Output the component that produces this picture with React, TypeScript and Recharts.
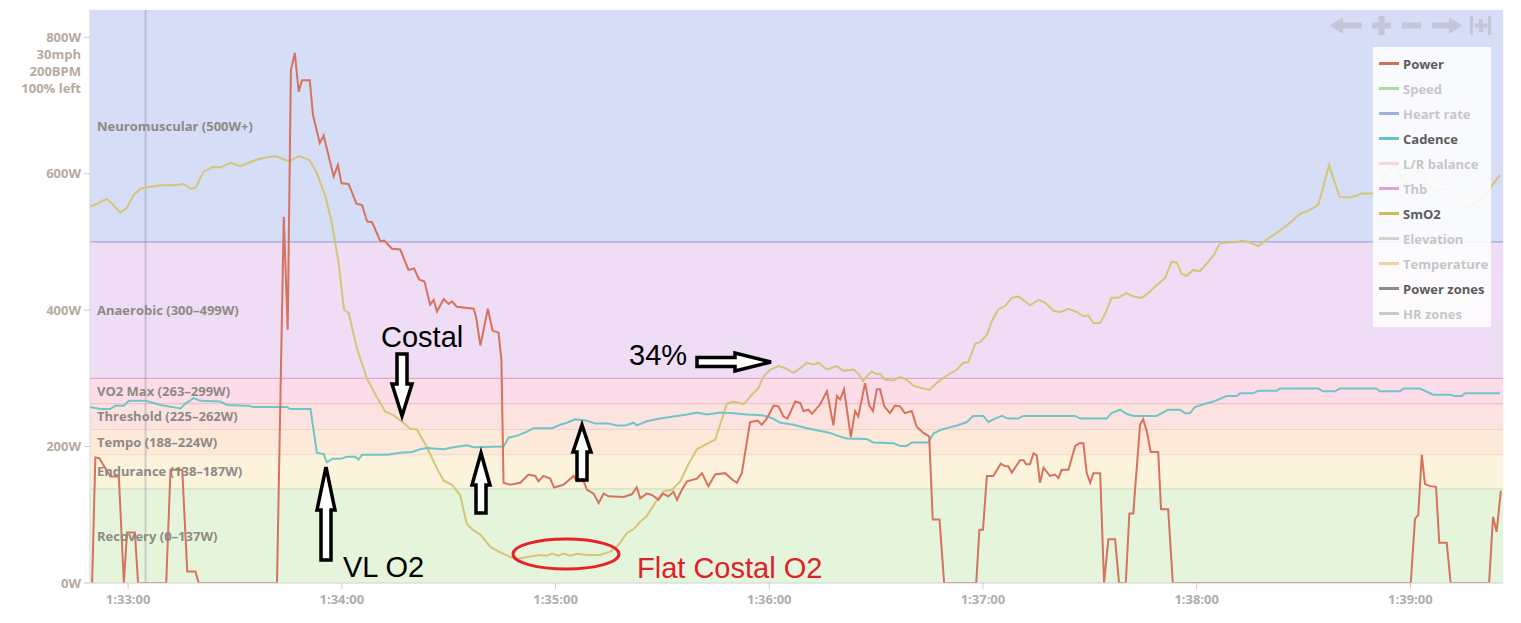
/**
 * Ride file segment: power, cadence and SmO2 over a ~6.5 minute window,
 * drawn on top of the coloured power-zone bands, with hand-drawn notes
 * (arrows, "Costal", "VL O2", "34%", the red "Flat Costal O2" ring).
 *
 * Cadence and SmO2 are kept in the same plotted units as the watt axis,
 * so every series shares the single visible y scale.
 */

import {
	CartesianGrid,
	Line,
	LineChart,
	ReferenceArea,
	ReferenceLine,
	XAxis,
	YAxis,
} from "recharts";

// Time in seconds after 1:33:00.
const xTicks = [0, 60, 120, 180, 240, 300, 360];
const xTickLabels = ["1:33:00", "1:34:00", "1:35:00", "1:36:00", "1:37:00", "1:38:00", "1:39:00"];
const yTicks = [0, 200, 400, 600, 800];
const topTickExtra = ["30mph", "200BPM", "100% left"];

const zoneNames = [
	"Recovery (0–137W)",
	"Endurance (138–187W)",
	"Tempo (188–224W)",
	"Threshold (225–262W)",
	"VO2 Max (263–299W)",
	"Anaerobic (300–499W)",
	"Neuromuscular (500W+)",
];
const zoneFrom = [0, 138, 188, 225, 263, 300, 500];
const zoneTo = [138, 188, 225, 263, 300, 500, 840];
const zoneFill = ["#e5f5dc", "#fbf3dc", "#fde9da", "#fde3df", "#fcdce8", "#efdcf5", "#d6ddf7"];
const zoneEdge = ["#d9dcc0", "#eedcc0", "#efd3c6", "#ecc3c6", "#dcaacb", "#aaa2d6"];

const powerT = [
	-10.1, -9.2, -8.1, -5.0, -2.6, -1.2, -0.3, 1.9, 2.8, 10.7, 11.9, 15.2, 16.6, 18.9, 19.8, 41.8, 43.7, 44.8, 45.7,
	46.8, 47.9, 48.8, 51.0, 51.9, 53.8, 54.9, 57.7, 58.9, 59.9, 61.9, 64.1, 65.7, 67.1, 68.5, 70.8, 71.9, 74.1, 76.4,
	78.7, 80.3, 81.7, 83.2, 84.8, 85.8, 86.7, 88.6, 90.0, 90.9, 92.3, 97.0, 97.7, 98.9, 101.0, 102.3, 104.0, 104.8,
	105.4, 107.3, 110.1, 112.4, 114.3, 115.2, 116.6, 118.5, 119.6, 122.2, 125.1, 126.0, 127.9, 128.8, 130.7, 132.1,
	133.5, 134.9, 139.1, 141.4, 142.8, 143.8, 145.6, 147.1, 148.9, 150.1, 151.7, 153.1, 154.1, 155.5, 156.9, 159.7,
	161.1, 162.9, 164.8, 167.6, 169.5, 170.9, 172.3, 174.6, 176.7, 177.9, 179.3, 181.2, 182.6, 184.0, 185.1, 187.3,
	188.7, 189.6, 191.0, 192.0, 194.3, 196.2, 198.0, 199.0, 199.9, 201.0, 202.9, 204.1, 205.0, 206.9, 208.1, 209.1,
	210.2, 211.1, 212.3, 213.9, 215.3, 216.7, 218.1, 220.0, 221.4, 223.3, 224.9, 225.9, 227.8, 229.1, 238.1, 239.0,
	240.0, 241.1, 242.9, 245.0, 246.2, 247.1, 248.1, 250.4, 251.4, 252.1, 253.2, 254.2, 255.1, 256.0, 257.0, 258.8,
	260.2, 261.2, 262.1, 264.0, 265.9, 267.1, 268.2, 269.1, 270.1, 271.0, 272.9, 274.0, 275.2, 277.1, 278.2, 280.1,
	281.1, 282.2, 284.1, 285.0, 286.0, 287.1, 289.2, 290.0, 292.0, 293.3, 360.1, 361.3, 362.2, 363.2, 364.1, 365.5,
	367.2, 368.1, 370.2, 371.3, 382.1, 383.2, 384.2, 385.4,
];
const powerW = [
	0, 184, 183, 156, 156, 0, 74, 74, 0, 0, 166, 166, 17, 17, 0, 0, 537, 371, 752, 777, 720, 737, 737, 686, 645, 656,
	596, 613, 586, 585, 556, 554, 530, 529, 501, 502, 490, 489, 459, 461, 445, 442, 408, 415, 398, 416, 409, 413, 405,
	402, 390, 348, 402, 370, 367, 327, 147, 144, 147, 159, 157, 149, 157, 153, 140, 144, 157, 149, 149, 137, 131, 117,
	131, 127, 126, 130, 140, 124, 131, 129, 122, 131, 127, 134, 122, 137, 149, 153, 161, 142, 159, 161, 152, 147, 161,
	236, 238, 232, 241, 260, 259, 244, 241, 266, 264, 252, 254, 248, 262, 281, 231, 274, 269, 284, 214, 252, 244, 293,
	260, 252, 284, 284, 259, 249, 260, 259, 249, 252, 229, 220, 215, 93, 93, 0, 0, 78, 78, 157, 157, 175, 171, 171,
	162, 180, 180, 174, 174, 190, 187, 147, 169, 157, 159, 154, 166, 166, 201, 205, 205, 162, 147, 161, 161, 0, 64, 64,
	0, 0, 102, 102, 232, 240, 222, 192, 192, 108, 108, 0, 0, 94, 100, 188, 145, 142, 141, 59, 59, 0, 0, 97, 75, 135,
];

const cadenceT = [
	-10.7, -7.8, -5.0, -3.6, -1.2, 0.2, 4.9, 9.1, 14.7, 16.1, 18.4, 20.3, 25.9, 27.8, 33.4, 35.2, 44.6, 45.5, 51.2,
	53.0, 54.9, 55.8, 57.3, 59.6, 61.5, 63.8, 64.7, 65.7, 72.7, 76.4, 79.7, 82.0, 83.9, 88.6, 91.4, 95.1, 97.0, 105.4,
	106.8, 109.2, 112.0, 113.8, 119.0, 121.3, 123.2, 125.5, 128.8, 131.1, 134.9, 137.2, 139.6, 141.9, 142.8, 145.6,
	149.4, 153.1, 156.9, 159.7, 162.5, 166.2, 170.0, 173.7, 177.9, 180.7, 183.1, 186.8, 190.6, 193.4, 197.1, 199.0,
	201.8, 207.4, 209.2, 214.9, 216.7, 218.6, 220.0, 224.7, 226.1, 228.0, 229.8, 232.7, 235.5, 237.3, 240.1, 241.5,
	243.4, 245.3, 247.1, 249.9, 251.3, 265.9, 267.3, 274.7, 276.1, 278.5, 280.3, 282.2, 288.7, 290.6, 292.0, 295.3,
	296.7, 298.1, 299.5, 301.9, 304.7, 308.4, 311.2, 312.2, 315.9, 317.3, 322.5, 323.4, 334.1, 335.5, 338.8, 340.2,
	350.5, 351.4, 357.1, 358.0, 362.7, 366.4, 371.1, 372.5, 374.4, 375.3, 385.1,
];
const cadenceV = [
	258, 255, 255, 260, 260, 267, 267, 261, 256, 263, 271, 267, 266, 261, 260, 258, 258, 255, 255, 191, 189, 177, 182,
	182, 185, 185, 181, 188, 188, 191, 192, 196, 198, 196, 199, 202, 199, 200, 213, 216, 222, 227, 227, 232, 235, 240,
	238, 234, 234, 231, 231, 235, 231, 237, 241, 244, 247, 250, 247, 250, 249, 247, 246, 242, 235, 232, 227, 224, 220,
	216, 212, 211, 206, 205, 201, 201, 206, 206, 219, 224, 227, 231, 236, 245, 245, 236, 241, 245, 241, 241, 245, 245,
	241, 241, 249, 254, 248, 245, 245, 250, 254, 254, 249, 249, 258, 262, 266, 274, 274, 278, 278, 282, 282, 285, 285,
	281, 281, 285, 285, 281, 281, 285, 285, 276, 276, 274, 274, 278, 278,
];

const smo2T = [
	-10.7, -8.2, -7.3, -5.9, -4.5, -2.2, -0.5, 1.6, 3.5, 6.3, 9.1, 12.8, 15.6, 17.5, 18.9, 21.2, 24.0, 25.9, 28.7,
	31.5, 35.2, 38.0, 41.3, 45.1, 48.0, 50.9, 53.0, 55.4, 57.2, 59.1, 60.6, 61.9, 64.2, 67.1, 69.9, 72.2, 74.5, 77.3,
	79.2, 81.1, 83.9, 86.7, 88.6, 90.9, 93.2, 95.1, 97.0, 98.9, 101.7, 104.5, 108.2, 110.1, 112.9, 115.7, 117.6, 119.0,
	120.8, 122.2, 124.1, 126.0, 128.8, 132.5, 135.4, 137.7, 140.0, 141.9, 143.8, 145.6, 148.5, 150.3, 152.7, 155.0,
	157.3, 159.7, 162.9, 164.8, 166.2, 168.1, 170.0, 172.8, 175.1, 177.0, 178.4, 180.3, 182.6, 184.5, 186.8, 188.7,
	190.6, 192.4, 193.8, 196.2, 199.0, 200.8, 203.6, 205.0, 206.4, 207.4, 208.8, 210.2, 211.1, 212.5, 214.9, 216.7,
	218.6, 220.5, 222.8, 225.0, 227.0, 229.8, 232.7, 234.5, 235.9, 237.8, 239.2, 241.1, 242.5, 244.3, 246.2, 248.1,
	250.0, 253.2, 255.6, 257.4, 259.8, 261.7, 264.0, 266.4, 268.2, 269.6, 271.0, 272.9, 274.3, 276.1, 278.0, 280.3,
	282.2, 284.6, 286.4, 288.8, 291.1, 293.0, 294.4, 295.8, 297.2, 299.0, 300.9, 303.3, 305.1, 306.5, 311.2, 313.1,
	315.0, 317.3, 319.6, 323.4, 326.2, 329.0, 331.8, 334.1, 335.5, 337.2, 338.8, 340.2, 343.0, 344.9, 346.3, 349.6,
	355.1, 358.9, 362.6, 366.4, 371.1, 375.3, 378.6, 381.4, 385.1,
];
const smo2V = [
	552, 557, 560, 563, 556, 543, 549, 569, 578, 581, 583, 583, 585, 578, 579, 603, 610, 609, 616, 611, 619, 623, 626,
	618, 626, 620, 601, 567, 528, 469, 401, 396, 345, 299, 272, 251, 246, 235, 226, 225, 199, 168, 150, 144, 129, 86, 77,
	71, 53, 45, 36, 36, 39, 41, 40, 43, 40, 43, 40, 43, 41, 41, 46, 56, 73, 79, 90, 98, 122, 134, 137, 149, 174, 196,
	205, 210, 232, 263, 266, 262, 276, 286, 303, 313, 318, 315, 308, 315, 323, 320, 323, 313, 318, 311, 313, 307, 296,
	303, 310, 306, 307, 298, 297, 302, 298, 289, 286, 283, 293, 304, 313, 323, 324, 351, 353, 364, 384, 401, 406, 418,
	420, 407, 415, 411, 399, 397, 402, 397, 391, 392, 381, 381, 395, 418, 418, 425, 420, 418, 425, 437, 447, 471, 470,
	453, 450, 459, 457, 471, 483, 498, 500, 502, 499, 494, 503, 517, 528, 541, 547, 554, 580, 613, 586, 566, 565, 568,
	571, 571, 615, 586, 604, 575, 578, 551, 557, 572, 598,
];

const legendNames = ["Power", "Speed", "Heart rate", "Cadence", "L/R balance", "Thb", "SmO2", "Elevation", "Temperature", "Power zones", "HR zones"];
const legendColors = ["#d2705c", "#a9dca2", "#9eb0dc", "#5ec6c6", "#f6d6da", "#d9a2da", "#c9bf55", "#d3d3cb", "#edd3a4", "#8c8c8c", "#cacaca"];
const legendActive = [true, false, false, true, false, false, true, false, false, true, false];

const series = (ts: number[], vs: number[]) => ts.map((t, i) => ({ t, v: vs[i] }));
const powerData = series(powerT, powerW);
const cadenceData = series(cadenceT, cadenceV);
const smo2Data = series(smo2T, smo2V);

const UI_FONT = "'Open Sans', 'Noto Sans', sans-serif";
const NOTE_FONT = "'Liberation Sans', Arial, sans-serif";

function YTick(props: any) {
	const { x, y, payload } = props;
	const lines = payload.value === 800 ? [`${payload.value}W`, ...topTickExtra] : [`${payload.value}W`];
	return (
		<text x={x} y={y} textAnchor="end" fill="#b5ab9e" fontSize={13} fontWeight={700} fontFamily={UI_FONT}>
			{lines.map((l, i) => (
				<tspan key={l} x={x} dy={i === 0 ? 4.5 : 17}>
					{l}
				</tspan>
			))}
		</text>
	);
}

// hollow outlined arrow, pointing up/down/right
function arrowPoints(dir: "up" | "down" | "right", c: number, tip: number, head: number, tail: number, hw: number, sw: number) {
	const pts: [number, number][] = [
		[tip, 0],
		[head, hw],
		[head, sw],
		[tail, sw],
		[tail, -sw],
		[head, -sw],
		[head, -hw],
	];
	return pts
		.map(([a, b]) => (dir === "right" ? `${a},${c + b}` : `${c + b},${a}`))
		.join(" ");
}

function Notes() {
	const arrow = { fill: "#fff", stroke: "#000", strokeWidth: 3.5, strokeLinejoin: "miter" as const };
	return (
		<svg width={1521} height={623} style={{ position: "absolute", left: 0, top: 0, pointerEvents: "none" }}>
			{/* toolbar */}
			<g fill="#c2c6d8">
				<polygon points="1330,25.5 1343,17 1343,34" />
				<rect x={1342} y={22.5} width={20} height={6} />
				<rect x={1378.5} y={16} width={6} height={19} />
				<rect x={1372} y={22.5} width={19} height={6} />
				<rect x={1402} y={22.5} width={19} height={6} />
				<rect x={1432} y={22.5} width={18} height={6} />
				<polygon points="1462,25.5 1449,17 1449,34" />
				<rect x={1470} y={16} width={3} height={19} />
				<rect x={1488} y={16} width={3} height={19} />
				<rect x={1479} y={19} width={4} height={13} />
				<rect x={1474.5} y={23.5} width={13} height={4} />
			</g>

			<polygon points={arrowPoints("down", 402, 416, 384, 354, 10, 5)} {...arrow} />
			<polygon points={arrowPoints("up", 326, 467, 510, 560, 9, 5)} {...arrow} />
			<polygon points={arrowPoints("up", 481, 453, 485, 513, 9, 5)} {...arrow} />
			<polygon points={arrowPoints("up", 582, 425, 452, 480, 9, 5)} {...arrow} />
			<polygon points={arrowPoints("right", 362, 771, 735, 697, 9, 4.5)} {...arrow} />

			<ellipse cx={566} cy={554} rx={53} ry={15} fill="none" stroke="#e6232b" strokeWidth={3} />

			<g fontFamily={NOTE_FONT} fontSize={29} fill="#000">
				<text x={381} y={347}>Costal</text>
				<text x={343} y={577}>VL O2</text>
				<text x={629} y={365}>34%</text>
				<text x={637} y={578} fill="#e0202a">
					Flat Costal O2
				</text>
			</g>
		</svg>
	);
}

function LegendBox() {
	return (
		<div
			style={{
				position: "absolute",
				left: 1373,
				top: 47,
				width: 118,
				height: 280,
				background: "rgba(255,255,255,0.86)",
				fontFamily: UI_FONT,
				fontSize: 13,
				fontWeight: 700,
				boxSizing: "border-box",
				paddingTop: 4,
			}}
		>
			{legendNames.map((name, i) => (
				<div key={name} style={{ height: 25.06, display: "flex", alignItems: "center" }}>
					<span
						style={{
							display: "inline-block",
							width: 20,
							height: 3,
							marginLeft: 6,
							marginRight: 4,
							background: legendColors[i],
						}}
					/>
					<span style={{ color: legendActive[i] ? "#5c5c5c" : "#c6c6c6", whiteSpace: "nowrap" }}>{name}</span>
				</div>
			))}
		</div>
	);
}

export default function App() {
	return (
		<div style={{ position: "relative", width: 1521, height: 623, background: "#fff" }}>
			<style>{"body{margin:0}"}</style>
			<LineChart width={1521} height={623} margin={{ top: 10, right: 18, bottom: 10, left: 0 }}>
				{zoneNames.map((name, i) => (
					<ReferenceArea
						key={name}
						y1={zoneFrom[i]}
						y2={zoneTo[i]}
						fill={zoneFill[i]}
						fillOpacity={1}
						stroke="none"
						label={{
							value: name,
							position: "insideLeft",
							offset: 7,
							fill: "#8e8984",
							fontSize: 13,
							fontWeight: 700,
							fontFamily: UI_FONT,
						}}
					/>
				))}
				{zoneFrom.slice(1).map((y, i) => (
					<ReferenceLine key={y} y={y} stroke={zoneEdge[i]} strokeWidth={1.2} />
				))}
				<CartesianGrid stroke="rgba(90,90,130,0.06)" />
				<ReferenceLine x={4.9} stroke="rgba(110,110,140,0.28)" strokeWidth={2} />
				<XAxis
					type="number"
					dataKey="t"
					domain={[-10.7, 386]}
					ticks={xTicks}
					tickFormatter={(v: number) => xTickLabels[xTicks.indexOf(v)] ?? ""}
					allowDataOverflow
					height={30}
					tickSize={6}
					tickMargin={6}
					axisLine={{ stroke: "#d2d2d2" }}
					tickLine={{ stroke: "#cccccc" }}
					tick={{ fill: "#aeaeae", fontSize: 13, fontWeight: 700, fontFamily: UI_FONT }}
				/>
				<YAxis
					type="number"
					domain={[0, 840]}
					ticks={yTicks}
					allowDataOverflow
					width={90}
					tickSize={6}
					tickMargin={3}
					axisLine={{ stroke: "#dadada" }}
					tickLine={{ stroke: "#cccccc" }}
					tick={<YTick />}
				/>
				<Line
					data={smo2Data}
					dataKey="v"
					name="SmO2"
					type="linear"
					stroke="#d4c577"
					strokeWidth={2}
					dot={false}
					isAnimationActive={false}
				/>
				<Line
					data={cadenceData}
					dataKey="v"
					name="Cadence"
					type="linear"
					stroke="#6ec6c9"
					strokeWidth={2}
					dot={false}
					isAnimationActive={false}
				/>
				<Line
					data={powerData}
					dataKey="v"
					name="Power"
					type="linear"
					stroke="#d5735e"
					strokeWidth={2}
					dot={false}
					isAnimationActive={false}
				/>
			</LineChart>
			<LegendBox />
			<Notes />
		</div>
	);
}
